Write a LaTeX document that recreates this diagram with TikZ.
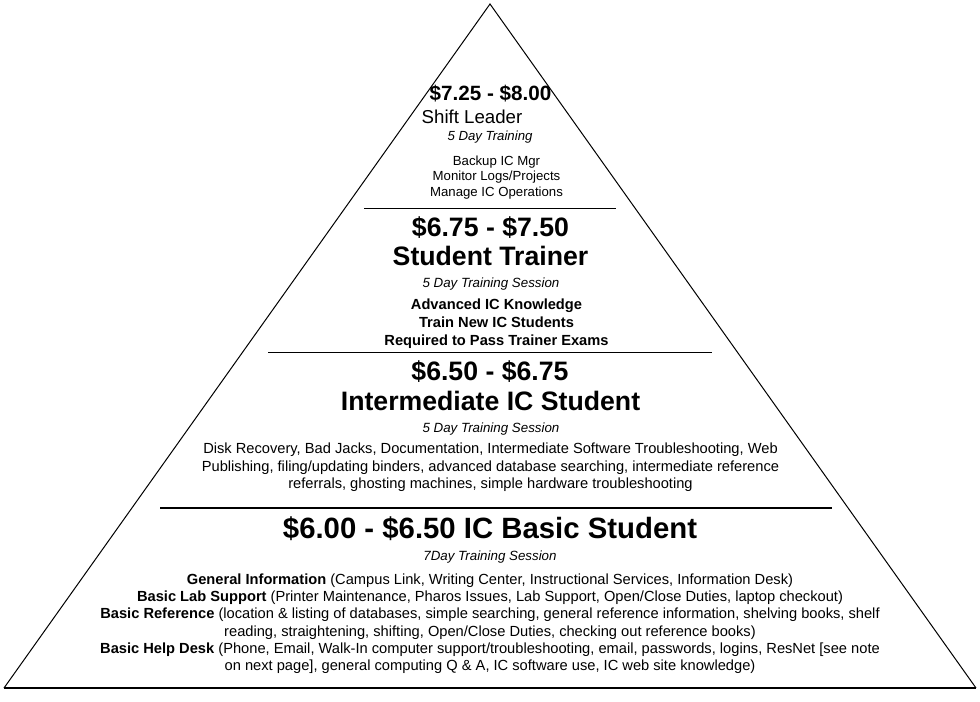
\documentclass[tikz,border=0pt]{standalone}
\usepackage{fontspec}
\setmainfont{Liberation Sans}
\tikzset{
  wage/.style={anchor=base,inner sep=0pt,font=\fontsize{20}{24}\selectfont\bfseries},
  training/.style={anchor=base,inner sep=0pt,font=\fontsize{10}{12}\selectfont\itshape},
  duties/.style={anchor=north,inner sep=0pt,align=center,font=\fontsize{11}{13.1}\selectfont}
}
\begin{document}
\begin{tikzpicture}[x=0.75pt,y=-0.75pt]
\useasboundingbox (0,0) rectangle (980,702);
\draw[line width=0.75pt] (4,688) -- (490,4) -- (976,688);
\draw[line width=1.1pt] (4,688) -- (976,688);
\draw[line width=0.65pt] (364,208) -- (616,208);
\draw[line width=0.65pt] (268,352) -- (712,352);
\draw[line width=0.8pt] (160,508) -- (832,508);
\node[wage,font=\fontsize{15.5}{18}\selectfont\bfseries] (leadpay) at (490.5,100.5) {\$7.25 - \$8.00};
\node[anchor=base,inner sep=0pt,font=\fontsize{14}{16}\selectfont] (leadname) at (472,123.5) {Shift Leader};
\node[training,font=\fontsize{9.9}{12}\selectfont\itshape] (leadtrain) at (490,141) {5 Day Training};
\node[duties,font=\fontsize{9.9}{11.6}\selectfont] (leadtasks) at (496.5,155.5) {Backup IC Mgr\\Monitor Logs/Projects\\Manage IC Operations};
\node[wage] (trainerpay) at (490.5,236) {\$6.75 - \$7.50};
\node[wage] (trainername) at (490.5,265) {Student Trainer};
\node[training] (trainertrain) at (491,287) {5 Day Training Session};
\node[duties,font=\fontsize{11}{13.5}\selectfont\bfseries] (trainertasks) at (496.5,299) {Advanced IC Knowledge\\Train New IC Students\\Required to Pass Trainer Exams};
\node[wage] (interpay) at (490,380.5) {\$6.50 - \$6.75};
\node[wage] (intername) at (490.5,410) {Intermediate IC Student};
\node[training] (intertrain) at (491,432) {5 Day Training Session};
\node[duties] (intertasks) at (490.5,443) {Disk Recovery, Bad Jacks, Documentation, Intermediate Software Troubleshooting, Web\\Publishing, filing/updating binders, advanced database searching, intermediate reference\\referrals, ghosting machines, simple hardware troubleshooting};
\node[wage,font=\fontsize{22}{26}\selectfont\bfseries] (basicpay) at (490,538) {\$6.00 - \$6.50 IC Basic Student};
\node[training] (basictrain) at (490,560) {7Day Training Session};
\node[duties,font=\fontsize{11}{12.9}\selectfont] (basictasks) at (490,573.5) {\textbf{General Information} (Campus Link, Writing Center, Instructional Services, Information Desk)\\\textbf{Basic Lab Support} (Printer Maintenance, Pharos Issues, Lab Support, Open/Close Duties, laptop checkout)\\\textbf{Basic Reference} (location \& listing of databases, simple searching, general reference information, shelving books, shelf\\reading, straightening, shifting, Open/Close Duties, checking out reference books)\\\textbf{Basic Help Desk} (Phone, Email, Walk-In computer support/troubleshooting, email, passwords, logins, ResNet [see note\\on next page], general computing Q \& A, IC software use, IC web site knowledge)};
\end{tikzpicture}
\end{document}
